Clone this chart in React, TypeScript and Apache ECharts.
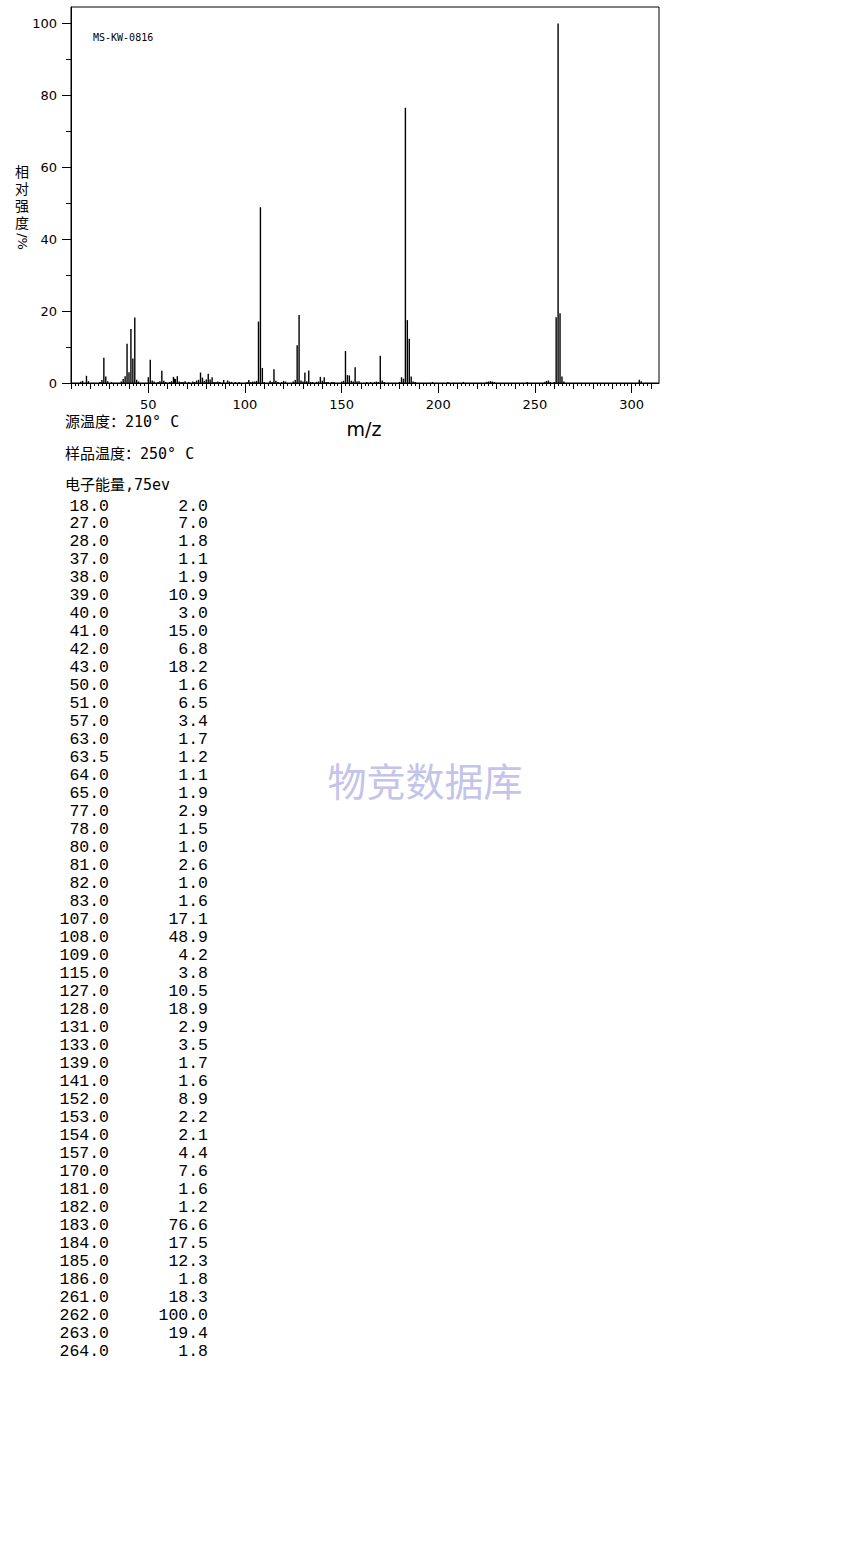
import React, { useEffect, useRef } from "react";
import * as echarts from "echarts";

// Listed peaks (table)
const tableMz = [18, 27, 28, 37, 38, 39, 40, 41, 42, 43, 50, 51, 57, 63, 63.5, 64, 65, 77, 78, 80, 81, 82, 83, 107, 108, 109, 115, 127, 128, 131, 133, 139, 141, 152, 153, 154, 157, 170, 181, 182, 183, 184, 185, 186, 261, 262, 263, 264];
const tableIntensity = [2.0, 7.0, 1.8, 1.1, 1.9, 10.9, 3.0, 15.0, 6.8, 18.2, 1.6, 6.5, 3.4, 1.7, 1.2, 1.1, 1.9, 2.9, 1.5, 1.0, 2.6, 1.0, 1.6, 17.1, 48.9, 4.2, 3.8, 10.5, 18.9, 2.9, 3.5, 1.7, 1.6, 8.9, 2.2, 2.1, 4.4, 7.6, 1.6, 1.2, 76.6, 17.5, 12.3, 1.8, 18.3, 100.0, 19.4, 1.8];

// Small unlisted peaks seen in the spectrum (estimated)
const minorMz = [15, 16, 19, 25, 26, 29, 31, 36, 44, 45, 52, 53, 55, 56, 58, 59, 61, 62, 66, 67, 68, 69, 71, 73, 74, 75, 76, 79, 84, 85, 86, 87, 89, 91, 92, 93, 95, 97, 101, 102, 103, 104, 105, 106, 110, 113, 114, 116, 117, 119, 120, 121, 125, 126, 129, 130, 132, 134, 135, 137, 138, 140, 142, 143, 145, 146, 150, 151, 155, 156, 158, 159, 163, 165, 167, 168, 169, 171, 172, 180, 187, 188, 197, 205, 213, 225, 226, 227, 228, 229, 246, 255, 256, 257, 258, 260, 265, 304, 305];
const minorIntensity = [0.4, 0.6, 0.5, 0.3, 0.8, 0.5, 0.2, 0.4, 0.9, 0.4, 0.7, 0.4, 0.3, 0.5, 0.6, 0.3, 0.3, 0.5, 0.4, 0.3, 0.3, 0.5, 0.3, 0.4, 0.3, 0.7, 0.9, 0.6, 0.3, 0.3, 0.4, 0.3, 0.8, 0.7, 0.4, 0.3, 0.3, 0.3, 0.3, 0.8, 0.3, 0.4, 0.4, 0.6, 0.3, 0.6, 0.3, 0.6, 0.3, 0.3, 0.6, 0.4, 0.4, 0.8, 0.7, 0.4, 0.5, 0.3, 0.3, 0.3, 0.4, 0.6, 0.3, 0.3, 0.3, 0.3, 0.4, 0.6, 0.6, 0.4, 0.4, 0.5, 0.3, 0.3, 0.3, 0.4, 0.3, 0.7, 0.3, 0.3, 0.4, 0.3, 0.3, 0.3, 0.3, 0.3, 0.4, 0.5, 0.4, 0.3, 0.3, 0.3, 0.6, 0.7, 0.3, 0.3, 0.4, 0.9, 0.5];

// Axis ranges and ticks
const X_MIN = 10;
const X_MAX = 314.2;
const Y_MIN = 0;
const Y_MAX = 104.6;
const xMinorTicks: number[] = [];
for (let v = 10; v <= 310; v += 2) xMinorTicks.push(v);
const xMidTicks: number[] = [];
for (let v = 10; v <= 310; v += 10) xMidTicks.push(v);
const xLabelTicks = [50, 100, 150, 200, 250, 300];
const yMinorTicks = [0, 10, 20, 30, 40, 50, 60, 70, 80, 90, 100];
const yLabelTicks = [0, 20, 40, 60, 80, 100];

// Texts
const sampleCode = "MS-KW-0816";
const yTitleChars = ["相", "对", "强", "度"];
const yTitleUnit = "/%";
const xTitle = "m/z";
const infoLines = ["源温度：210° C", "样品温度：250° C", "电子能量,75ev"];
const watermark = "物竞数据库";

export default function App() {
  const ref = useRef<HTMLDivElement>(null);

  useEffect(() => {
    if (!ref.current) return;
    const chart = echarts.init(ref.current, undefined, { renderer: "svg" });

    const peaks: number[][] = [];
    tableMz.forEach((m, i) => peaks.push([m, tableIntensity[i]]));
    minorMz.forEach((m, i) => peaks.push([m, minorIntensity[i]]));

    const labelFont = "DejaVu Sans";
    const tickStyle = { color: "#000", width: 1 };

    const graphic: any[] = [];
    graphic.push({
      type: "text",
      x: 93,
      y: 37.5,
      style: { text: sampleCode, fill: "#000", font: "10px 'DejaVu Sans Mono'", textAlign: "left", verticalAlign: "middle" },
    });
    // vertical title: stacked characters
    const yCharY = [170.5, 187.5, 204.5, 221.5];
    yTitleChars.forEach((c, i) => {
      graphic.push({
        type: "text",
        x: 22,
        y: yCharY[i],
        style: { text: c, fill: "#000", font: "14px 'Noto Sans CJK SC'", lineHeight: 16, textAlign: "center", verticalAlign: "middle" },
      });
    });
    graphic.push({
      type: "text",
      x: 22,
      y: 241.5,
      rotation: -Math.PI / 2,
      style: { text: yTitleUnit, fill: "#000", font: "13px 'DejaVu Sans'", textAlign: "center", verticalAlign: "middle" },
    });
    graphic.push({
      type: "text",
      x: 364,
      y: 429,
      style: { text: xTitle, fill: "#000", font: "19px 'DejaVu Sans'", textAlign: "center", verticalAlign: "middle" },
    });
    const infoY = [422, 454, 485];
    infoLines.forEach((t, i) => {
      graphic.push({
        type: "text",
        x: 65,
        y: infoY[i],
        style: { text: t, fill: "#000", font: "15px 'DejaVu Sans Mono', 'Noto Sans CJK SC'", textAlign: "left", verticalAlign: "middle" },
      });
    });
    tableMz.forEach((m, i) => {
      const y = 506 + i * 17.98;
      graphic.push({
        type: "text",
        x: 109,
        y,
        style: { text: m.toFixed(1), fill: "#000", font: "16.5px 'Liberation Mono'", textAlign: "right", verticalAlign: "middle" },
      });
      graphic.push({
        type: "text",
        x: 208,
        y,
        style: { text: tableIntensity[i].toFixed(1), fill: "#000", font: "16.5px 'Liberation Mono'", textAlign: "right", verticalAlign: "middle" },
      });
    });
    graphic.push({
      type: "text",
      x: 425,
      y: 779,
      style: { text: watermark, fill: "#c4c4ea", font: "39px 'Noto Sans CJK SC'", textAlign: "center", verticalAlign: "middle" },
    });

    const baseX = {
      type: "value",
      min: X_MIN,
      max: X_MAX,
      position: "bottom",
      splitLine: { show: false },
    };
    const baseY = {
      type: "value",
      min: Y_MIN,
      max: Y_MAX,
      position: "left",
      splitLine: { show: false },
    };

    chart.setOption({
      animation: false,
      backgroundColor: "#fff",
      grid: {
        left: 71,
        top: 7,
        width: 588,
        height: 376,
        show: true,
        borderColor: "#000",
        borderWidth: 1,
        backgroundColor: "transparent",
      },
      xAxis: [
        {
          ...baseX,
          axisLine: { show: true, lineStyle: tickStyle },
          axisTick: { show: true, customValues: xMinorTicks, length: 3, lineStyle: tickStyle },
          axisLabel: { show: false },
        },
        {
          ...baseX,
          axisLine: { show: false },
          axisTick: { show: true, customValues: xMidTicks, length: 6, lineStyle: tickStyle },
          axisLabel: { show: false },
        },
        {
          ...baseX,
          axisLine: { show: false },
          axisTick: { show: true, customValues: xLabelTicks, length: 10, lineStyle: tickStyle },
          axisLabel: { show: true, customValues: xLabelTicks, margin: 15, color: "#000", fontSize: 13, fontFamily: labelFont },
        },
      ],
      yAxis: [
        {
          ...baseY,
          axisLine: { show: true, lineStyle: tickStyle },
          axisTick: { show: true, customValues: yMinorTicks, length: 5, lineStyle: tickStyle },
          axisLabel: { show: false },
        },
        {
          ...baseY,
          axisLine: { show: false },
          axisTick: { show: true, customValues: yLabelTicks, length: 9, lineStyle: tickStyle },
          axisLabel: { show: true, customValues: yLabelTicks, margin: 14, color: "#000", fontSize: 13, fontFamily: labelFont },
        },
      ],
      series: [
        {
          type: "custom",
          xAxisIndex: 0,
          yAxisIndex: 0,
          clip: false,
          encode: { x: 0, y: 1 },
          data: peaks,
          renderItem: (params: any, api: any) => {
            const x = api.value(0);
            const y = api.value(1);
            const p0 = api.coord([x, 0]);
            const p1 = api.coord([x, y]);
            return {
              type: "line",
              shape: { x1: p0[0], y1: p0[1], x2: p1[0], y2: p1[1] },
              style: { stroke: "#000", lineWidth: 1.4 },
            };
          },
        },
      ],
      graphic,
    });

    return () => chart.dispose();
  }, []);

  return (
    <div
      ref={ref}
      style={{ position: "absolute", left: 0, top: 0, width: 850, height: 1559, background: "#fff" }}
    />
  );
}
